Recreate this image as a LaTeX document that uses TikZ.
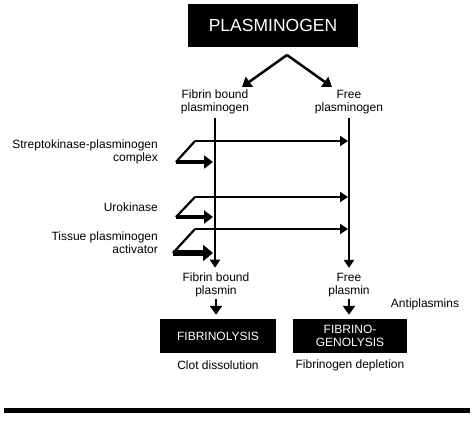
\documentclass[tikz,border=0pt]{standalone}
\usepackage{fontspec}
\setmainfont{Liberation Sans}
\usetikzlibrary{arrows.meta}

\begin{document}
\begin{tikzpicture}[x=1pt,y=-1pt,
        lbl/.style={font=\fontsize{12}{13}\selectfont,align=center,inner sep=0pt},
        blk/.style={fill=black,text=white,align=center,inner sep=0pt,font=\fontsize{12}{12.5}\selectfont},
        slim/.style={line width=2pt,-{Triangle[length=8pt,width=10pt]}},
        fat/.style={line width=2.5pt,-{Triangle[length=9pt,width=12pt]}}]
    \useasboundingbox (0,0) rectangle (474,438);
    % plasminogen and the fork
    \node[blk,minimum width=170pt,minimum height=43pt,font=\fontsize{17.5}{20}\selectfont] (plg) at (273,25.5) {PLASMINOGEN};
    \coordinate (fork) at (287,55);
    \coordinate (forkL) at (242,87);
    \coordinate (forkR) at (332,87);
    \draw[fat] (fork) -- (forkL);
    \draw[fat] (fork) -- (forkR);
    \node[lbl] (fbpg) at (215,102) {Fibrin bound\\plasminogen};
    \node[lbl] (fpg) at (349,102) {Free\\plasminogen};
    % plasmin
    \node[lbl] (fbp) at (216,285) {Fibrin bound\\plasmin};
    \node[lbl] (fp) at (349,285) {Free\\plasmin};
    \draw[slim,shorten <=4pt,shorten >=5pt] (fbpg.south) -- (fbpg.south |- fbp.north);
    \draw[slim,shorten <=4pt,shorten >=5pt] (fpg.south) -- (fpg.south |- fp.north);
    % activators
    \node[lbl,anchor=east,align=right] (skl) at (158,151.5) {Streptokinase-plasminogen\\complex};
    \node[lbl,anchor=east,align=right] (ukl) at (158,207) {Urokinase};
    \node[lbl,anchor=east,align=right] (tpal) at (158,243) {Tissue plasminogen\\activator};
    \coordinate (sk) at (195,141);  \coordinate (skb) at (176,162);
    \coordinate (uk) at (195,197);  \coordinate (ukb) at (176,217);
    \coordinate (tpa) at (195,229); \coordinate (tpab) at (173,253);
    \draw[slim,shorten >=1pt] (sk) -- (sk -| fpg);
    \draw[slim,shorten >=1pt] (uk) -- (uk -| fpg);
    \draw[slim,shorten >=1pt] (tpa) -- (tpa -| fpg);
    \draw[line width=2.2pt] (sk) -- (skb);
    \draw[line width=2.2pt] (uk) -- (ukb);
    \draw[line width=2.2pt] (tpa) -- (tpab);
    \draw[line width=3.5pt,-{Triangle[length=9pt,width=13pt]},shorten >=2pt] (skb) -- (skb -| fbpg);
    \draw[line width=3.5pt,-{Triangle[length=9pt,width=13pt]},shorten >=2pt] (ukb) -- (ukb -| fbpg);
    \draw[line width=6pt,-{Triangle[length=10pt,width=16pt]},shorten >=2pt] (tpab) -- (tpab -| fbpg);
    % outcomes
    \node[blk,minimum width=116pt,minimum height=34pt] (fbl) at (218,336) {FIBRINOLYSIS};
    \node[blk,minimum width=114pt,minimum height=34pt] (fgl) at (350,336) {FIBRINO-\\GENOLYSIS};
    \draw[fat,shorten <=2pt,shorten >=4pt] (fbp.south) -- (fbp.south |- fbl.north);
    \draw[fat,shorten <=2pt,shorten >=4pt] (fp.south) -- (fp.south |- fgl.north);
    \node[lbl] (ap) at (425,304) {Antiplasmins};
    \node[lbl] (clot) at (218,365) {Clot dissolution};
    \node[lbl] (dep) at (350,365) {Fibrinogen depletion};
    \draw[line width=5pt] (4,410) -- (470,410);
\end{tikzpicture}
\end{document}
